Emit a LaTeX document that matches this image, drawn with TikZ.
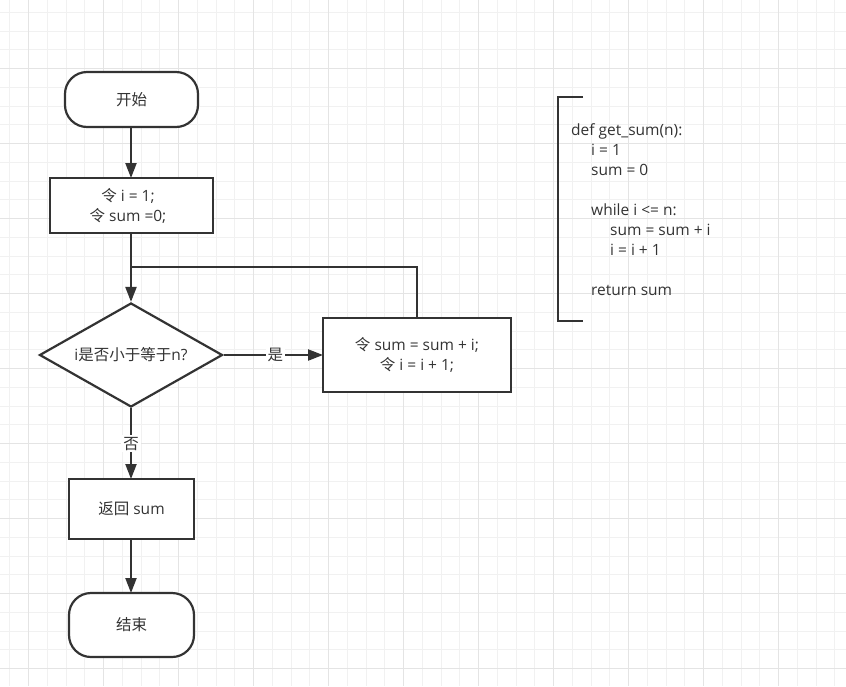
\documentclass[tikz,border=0pt]{standalone}
\usepackage{fontspec}
\setmainfont{Open Sans}
\newfontfamily\cjk{Noto Sans CJK SC}
\usetikzlibrary{arrows.meta,shapes.geometric}
\definecolor{ink}{HTML}{333333}
\definecolor{gridminor}{HTML}{F1F1F1}
\definecolor{gridmajor}{HTML}{E4E4E4}
\begin{document}
\begin{tikzpicture}[x=1pt,y=-1pt,
  every node/.style={font=\fontsize{15.5}{20}\selectfont, text=ink, inner sep=0pt},
  shapebox/.style={draw=ink, line width=2.2pt, fill=white},
  terminal/.style={shapebox, rounded corners=22pt},
  conn/.style={draw=ink, line width=2.2pt},
  arr/.style={conn, -{Triangle[length=15pt,width=11pt]}},
  lbl/.style={fill=white, inner sep=2pt},
  codeline/.style={anchor=base west}
]
\useasboundingbox (0,0) rectangle (846,686);
\fill[white] (0,0) rectangle (846,686);
% grid
\foreach \k in {0,...,45} {
  \draw[gridminor, line width=1pt] ({9.95+18.75*\k},0) -- ({9.95+18.75*\k},686);
}
\foreach \k in {0,...,37} {
  \draw[gridminor, line width=1pt] (0,{12.45+18.75*\k}) -- (846,{12.45+18.75*\k});
}
\foreach \k in {0,...,11} {
  \draw[gridmajor, line width=1pt] ({28.7+75*\k},0) -- ({28.7+75*\k},686);
}
\foreach \k in {1,...,9} {
  \draw[gridmajor, line width=1pt] (0,{-6.3+75*\k}) -- (846,{-6.3+75*\k});
}

% nodes
\draw[terminal] (65,72) rectangle (198,127);
\node (start) at (131.5,99.5) {\cjk 开始};
\coordinate (startS) at (131,127);

\draw[shapebox] (50,178) rectangle (213,233);
\node[align=center] (init) at (128,206) {{\cjk 令} i = 1;\\{\cjk 令} sum =0;};
\coordinate (initN) at (131,178);
\coordinate (initS) at (131,233);

\node[shapebox, diamond, minimum width=183pt, minimum height=104pt, inner sep=0pt] (cond) at (131,355) {};
\node at (131,355) {i{\cjk 是否小于等于}n?};

\draw[shapebox] (323,318) rectangle (511,392);
\node[align=center] (body) at (417,355) {{\cjk 令} sum = sum + i;\\{\cjk 令} i = i + 1;};
\coordinate (bodyW) at (323,355);
\coordinate (bodyN) at (417,318);

\draw[shapebox] (69,479) rectangle (194,539);
\node (ret) at (131.5,509) {{\cjk 返回} sum};
\coordinate (retN) at (131,479);
\coordinate (retS) at (131,539);

\draw[terminal] (69,593) rectangle (194,657);
\node (end) at (131.5,625) {\cjk 结束};
\coordinate (endN) at (131,593);

\coordinate (joinL) at (131,267);
\coordinate (joinR) at (417,267);

% connectors
\draw[arr] (startS) -- (initN);
\draw[arr] (initS) -- (cond.north);
\draw[conn] (bodyN) -- (joinR) -- (joinL);
\draw[arr] (cond.east) -- node[lbl, pos=0.52, font=\cjk\fontsize{15.5}{20}\selectfont] {是} (bodyW);
\draw[arr] (cond.south) -- node[lbl, pos=0.5, font=\cjk\fontsize{15.5}{20}\selectfont] {否} (retN);
\draw[arr] (retS) -- (endN);

% code bracket
\coordinate (bt) at (583,97);
\coordinate (bb) at (583,321);
\draw[conn] (bt) -- (558,97) -- (558,321) -- (bb);
\node[codeline] (c1) at (571,135) {def get\_sum(n):};
\node[codeline] (c2) at (591,155) {i = 1};
\node[codeline] (c3) at (591,175) {sum = 0};
\node[codeline] (c4) at (591,215) {while i <= n:};
\node[codeline] (c5) at (610,235) {sum = sum + i};
\node[codeline] (c6) at (610,255) {i = i + 1};
\node[codeline] (c7) at (591,295) {return sum};
\end{tikzpicture}
\end{document}
